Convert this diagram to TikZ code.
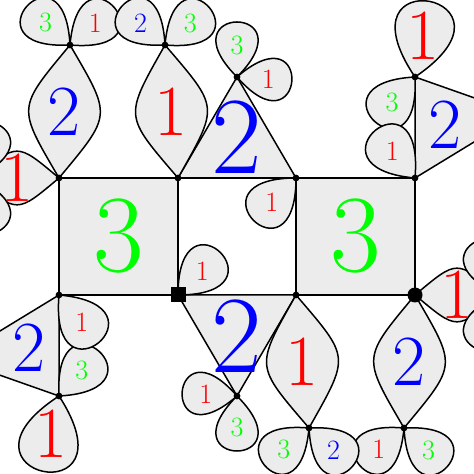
\documentclass[tikz,border=0pt]{standalone}
\usetikzlibrary{calc}
\definecolor{facegray}{gray}{0.925}
\begin{document}
\begin{tikzpicture}[
			x=1pt, y=1pt,
			face/.style = {draw, fill=facegray, line width=1.5pt, line join=round},
			hole/.style = {draw, fill=white, line width=1.5pt},
			big/.style = {inner sep=0pt, font=\fontsize{110}{110}\selectfont},
			mid/.style = {inner sep=0pt, font=\fontsize{72}{72}\selectfont},
			]
			\path[use as bounding box] (0,0) rectangle (474,474);
			\clip (0,0) rectangle (474,474);
			% corners of the squares
			\coordinate (A) at (59,296);
			\coordinate (B) at (178,296);
			\coordinate (C) at (296,296);
			\coordinate (D) at (415,296);
			\coordinate (E) at (59,179);
			\coordinate (F) at (178,179);
			\coordinate (G) at (296,179);
			\coordinate (H) at (415,179);
			% outer vertices
			\coordinate (T1) at (237,397);
			\coordinate (T2) at (237,78);
			\coordinate (P1) at (70,429);
			\coordinate (P1b) at (404,46);
			\coordinate (P2) at (165,429);
			\coordinate (P2b) at (309,46);
			\coordinate (R1) at (415,397);
			\coordinate (R1b) at (59,78);
			\coordinate (Rt) at (520,360);
			\coordinate (Rtb) at (-46,115);
			\coordinate (L1) at (-25,296);
			\coordinate (L2) at (499,179);
			% faces
			\draw[face] (A) rectangle (F);
			\draw[face] (C) rectangle (H);
			\draw[hole] (B) rectangle (G);
			\draw[face] (B) -- (T1) -- (C) -- cycle;
			\draw[face] (F) -- (T2) -- (G) -- cycle;
			\draw[face] (D) -- (R1) -- (Rt) -- cycle;
			\draw[face] (E) -- (R1b) -- (Rtb) -- cycle;
			\foreach \p/\q/\b/\l in {A/P1/35/1.6, B/P2/35/1.6, A/L1/40/1.7,
				H/P1b/35/1.6, G/P2b/35/1.6, H/L2/40/1.7}
			\draw[face] (\p) to[bend left=\b, looseness=\l] (\q)
				to[bend left=\b, looseness=\l] (\p) -- cycle;
			% petals: vertex/angle/length/colour/label/size/label distance
			\foreach \v/\a/\l/\c/\t/\s/\r [count=\i] in {
				P1/138/58/green/3/28/0.57, P1/40/58/red/1/28/0.57,
				P2/138/58/blue/2/28/0.57, P2/40/58/green/3/28/0.57,
				T1/90/55/green/3/28/0.57, T1/-4/55/red/1/28/0.57,
				C/225/60/red/1/28/0.57,
				R1/79/77/red/1/72/0.54, R1/228/60/green/3/28/0.57,
				D/130/62/red/1/28/0.57,
				P1b/220/58/red/1/28/0.57, P1b/318/58/green/3/28/0.57,
				P2b/220/58/green/3/28/0.57, P2b/318/58/blue/2/28/0.57,
				T2/176/55/red/1/28/0.57, T2/270/55/green/3/28/0.57,
				F/45/60/red/1/28/0.57,
				R1b/258/77/red/1/72/0.5, R1b/48/60/green/3/28/0.57,
				E/310/62/red/1/28/0.57}{
				\pgfmathsetmacro\ao{\a+45}
				\pgfmathsetmacro\ai{\a-45}
				\pgfmathsetmacro\dd{1.886*\l}
				\pgfmathsetmacro\dt{\r*\l}
				\draw[face] (\v) to[out=\ao, in=\ai, distance=\dd pt] (\v) -- cycle;
				\node[inner sep=0pt, text=\c, font=\fontsize{\s}{\s}\selectfont] (pl\i) at ($(\v)+(\a:\dt)$) {\t};
			}
			% petals cut off by the border
			\foreach \v/\a in {L1/70, L1/-70, L2/250, L2/110}{
				\pgfmathsetmacro\ao{\a+45}
				\pgfmathsetmacro\ai{\a-45}
				\draw[face] (\v) to[out=\ao, in=\ai, distance=110pt] (\v) -- cycle;
			}
			% vertices
			\foreach \v in {A,B,C,D,E,G,P1,P2,T1,R1,P1b,P2b,T2,R1b}
			\fill (\v) circle (3.4);
			\fill ($(F)+(-7.5,-7.5)$) rectangle ($(F)+(7.5,7.5)$);
			\fill (H) circle (7.5);
			% labels
			\node[big, text=green] (sqL) at (118.5,237.5) {3};
			\node[big, text=green] (sqR) at (355.5,237.5) {3};
			\node[big, text=blue] (trT) at (237,337) {2};
			\node[big, text=blue] (trB) at (237,138) {2};
			\node[mid, text=blue] (trR) at (445,349) {2};
			\node[mid, text=blue] (trL) at (29,126) {2};
			\node[mid, text=blue] (lnA) at ($(A)!0.5!(P1)$) {2};
			\node[mid, text=red] (lnB) at ($(B)!0.5!(P2)$) {1};
			\node[mid, text=red] (lnL) at ($(A)!0.5!(L1)$) {1};
			\node[mid, text=blue] (lnH) at ($(H)!0.5!(P1b)$) {2};
			\node[mid, text=red] (lnG) at ($(G)!0.5!(P2b)$) {1};
			\node[mid, text=red] (lnR) at ($(H)!0.5!(L2)$) {1};
		\end{tikzpicture}
\end{document}
